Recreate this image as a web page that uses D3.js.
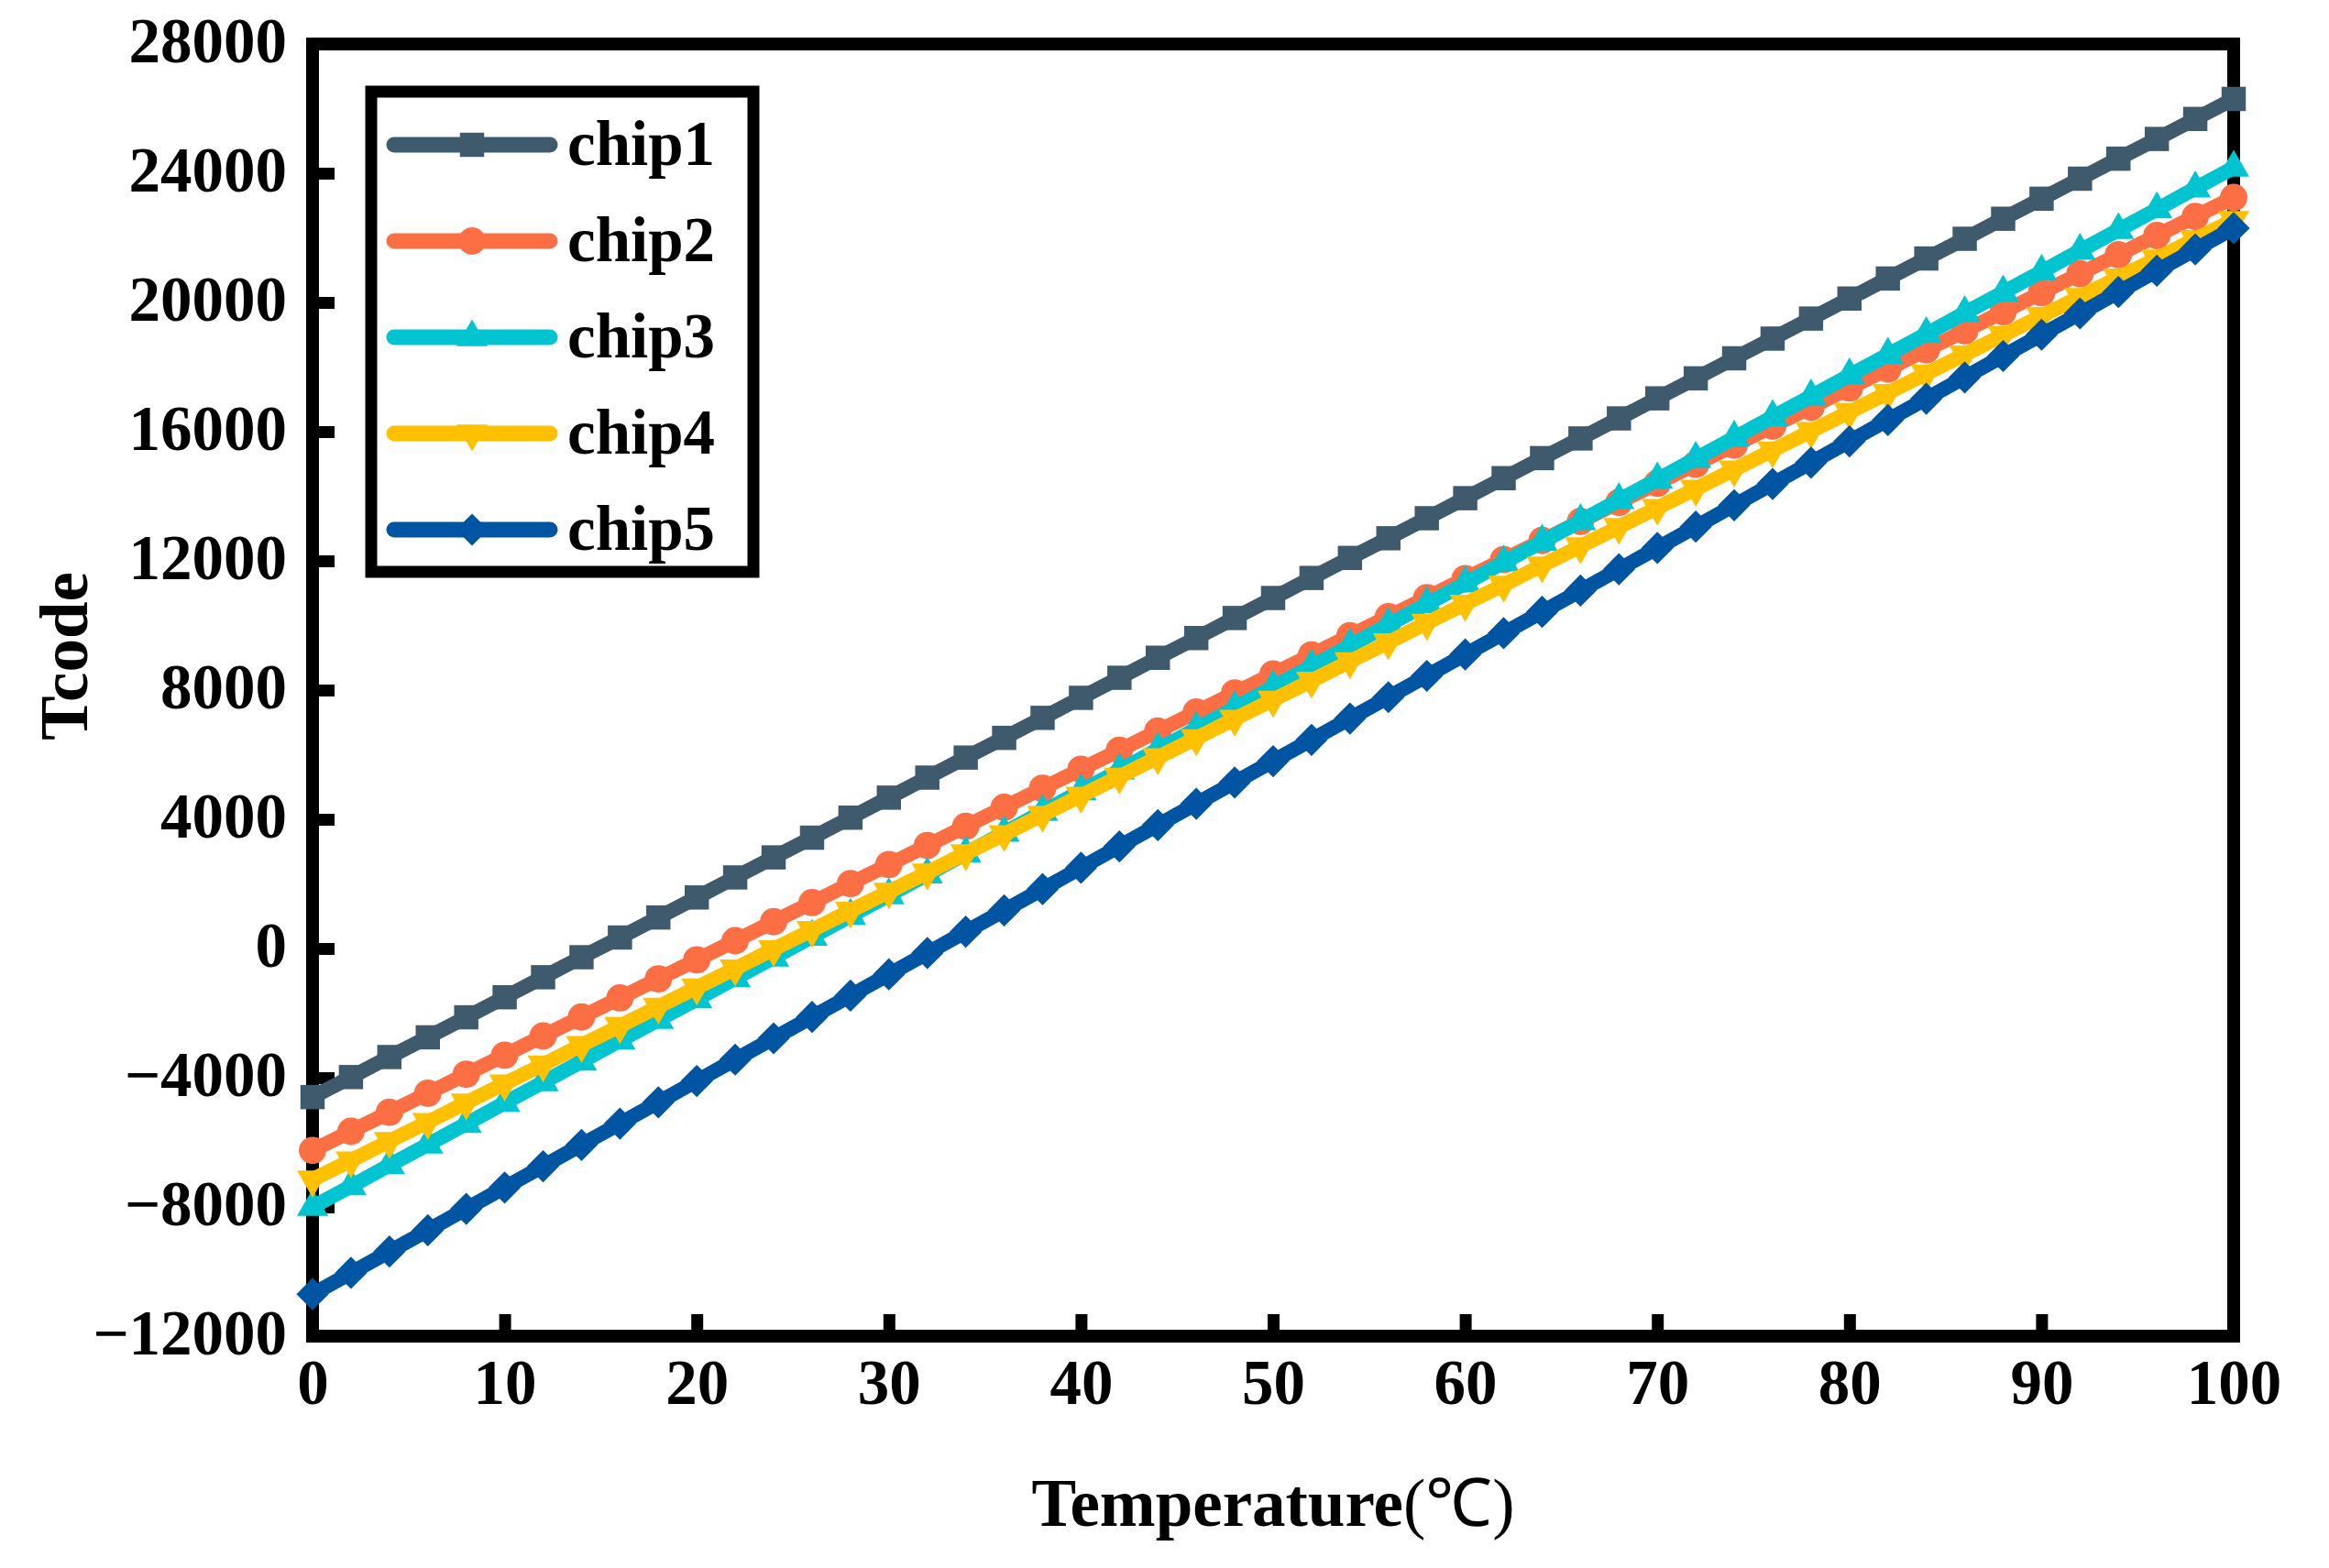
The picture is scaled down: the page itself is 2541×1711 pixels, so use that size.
<!DOCTYPE html>
<html>
<head>
<meta charset="utf-8">
<script src="https://cdn.jsdelivr.net/npm/d3@7"></script>
<style>
  html, body { margin: 0; padding: 0; background: #ffffff; }
  svg { display: block; }
  text { font-family: "Liberation Serif", "Times New Roman", serif; font-weight: bold; fill: #000; }
</style>
</head>
<body>
<script>
// ---------------- data ----------------
const temperature = [0,2,4,6,8,10,12,14,16,18,20,22,24,26,28,30,32,34,36,38,40,42,44,46,48,50,52,54,56,58,60,62,64,66,68,70,72,74,76,78,80,82,84,86,88,90,92,94,96,98,100];

const chip1 = [-4600,-3980,-3360,-2750,-2130,-1510,-890,-270,340,960,1580,2200,2820,3430,4050,4670,5290,5910,6520,7140,7760,8380,9000,9610,10230,10850,11470,12090,12700,13320,13940,14560,15180,15790,16410,17030,17650,18270,18880,19500,20120,20740,21360,21970,22590,23210,23830,24450,25060,25680,26300];
const chip2 = [-6250,-5660,-5070,-4480,-3890,-3300,-2710,-2120,-1530,-940,-350,240,830,1420,2010,2600,3190,3780,4370,4960,5550,6140,6730,7320,7910,8500,9090,9680,10270,10860,11450,12040,12630,13220,13810,14400,14990,15580,16170,16760,17350,17940,18530,19120,19710,20300,20890,21480,22070,22660,23250];
const chip3 = [-8000,-7360,-6710,-6070,-5430,-4780,-4140,-3500,-2850,-2210,-1570,-920,-280,360,1010,1650,2290,2940,3580,4230,4870,5510,6160,6800,7440,8090,8730,9370,10020,10660,11300,11950,12590,13230,13880,14520,15160,15810,16450,17090,17740,18380,19020,19670,20310,20950,21600,22240,22880,23530,24170];
const chip4 = [-7150,-6560,-5960,-5370,-4770,-4180,-3590,-2990,-2400,-1800,-1210,-620,-20,570,1170,1760,2350,2950,3540,4140,4730,5320,5920,6510,7110,7700,8290,8890,9480,10080,10670,11260,11860,12450,13050,13640,14230,14830,15420,16020,16610,17200,17800,18390,18990,19580,20170,20770,21360,21960,22550];
const chip5 = [-10700,-10040,-9380,-8720,-8060,-7400,-6740,-6080,-5420,-4760,-4100,-3440,-2780,-2120,-1460,-800,-140,520,1180,1840,2500,3160,3820,4480,5140,5800,6460,7120,7780,8440,9100,9760,10420,11080,11740,12400,13060,13720,14380,15040,15700,16360,17020,17680,18340,19000,19660,20320,20980,21640,22300];

const seriesNames = ["chip1","chip2","chip3","chip4","chip5"];
const seriesValues = [chip1, chip2, chip3, chip4, chip5];
const seriesColors = ["#3e5a6c","#fc6f45","#00c4cf","#ffc000","#0055a2"];
const seriesMarkers = ["square","circle","triangleUp","triangleDown","diamond"];

const xTicks = [0,10,20,30,40,50,60,70,80,90,100];
const yTicks = [-12000,-8000,-4000,0,4000,8000,12000,16000,20000,24000,28000];
const xTitle = "Temperature";
const xUnit = "(℃)";
const yTitle = "Tcode";

// ---------------- layout ----------------
const W = 2541, H = 1711;
const pLeft = 341, pRight = 2437, pTop = 48, pBottom = 1458;

const svg = d3.select("body").append("svg").attr("width", W).attr("height", H);
svg.append("rect").attr("width", W).attr("height", H).attr("fill", "#fff");

const x = d3.scaleLinear().domain([0, 100]).range([pLeft, pRight]);
const y = d3.scaleLinear().domain([-12000, 28000]).range([pBottom, pTop]);

const fmt = d => d < 0 ? "\u2212" + Math.abs(d) : String(d);

// axes
const yAxis = svg.append("g").attr("transform", `translate(${pLeft},0)`)
  .call(d3.axisLeft(y).tickValues(yTicks).tickFormat(fmt).tickSizeInner(-24).tickSizeOuter(0).tickPadding(28));
yAxis.select(".domain").remove();
yAxis.selectAll(".tick line").attr("stroke", "#000").attr("stroke-width", 13);
yAxis.selectAll(".tick text").attr("font-size", 69).attr("dy", "0.28em")
  .style("font-family", "'Liberation Serif', serif").style("font-weight", "bold");

const xAxis = svg.append("g").attr("transform", `translate(0,${pBottom})`)
  .call(d3.axisBottom(x).tickValues(xTicks).tickFormat(fmt).tickSizeInner(-24).tickSizeOuter(0).tickPadding(0));
xAxis.select(".domain").remove();
xAxis.selectAll(".tick line").attr("stroke", "#000").attr("stroke-width", 13);
xAxis.selectAll(".tick text").attr("font-size", 69).attr("y", 74).attr("dy", 0)
  .style("font-family", "'Liberation Serif', serif").style("font-weight", "bold");

// frame
svg.append("rect")
  .attr("x", pLeft).attr("y", pTop)
  .attr("width", pRight - pLeft).attr("height", pBottom - pTop)
  .attr("fill", "none").attr("stroke", "#000").attr("stroke-width", 14);

// marker shapes
function markerPath(kind) {
  switch (kind) {
    case "square": return d3.symbol(d3.symbolSquare, 700)();
    case "circle": return d3.symbol(d3.symbolCircle, 700)();
    case "triangleUp": return d3.symbol(d3.symbolTriangle, 500)();
    case "triangleDown": return d3.symbol(d3.symbolTriangle, 500)();
    case "diamond": return d3.symbol(d3.symbolSquare, 620)();
  }
}
function markerRot(kind) {
  if (kind === "triangleDown") return 180;
  if (kind === "diamond") return 45;
  return 0;
}

const line = d3.line().x(d => x(d[0])).y(d => y(d[1]));

seriesValues.forEach((vals, i) => {
  const pts = temperature.map((t, j) => [t, vals[j]]);
  const g = svg.append("g").attr("class", "series-" + seriesNames[i]);
  g.append("path").datum(pts)
    .attr("d", line)
    .attr("fill", "none")
    .attr("stroke", seriesColors[i])
    .attr("stroke-width", 16)
    .attr("stroke-linejoin", "round");
  g.selectAll("path.mk").data(pts).enter().append("path")
    .attr("class", "mk")
    .attr("d", markerPath(seriesMarkers[i]))
    .attr("transform", d => `translate(${x(d[0])},${y(d[1])}) rotate(${markerRot(seriesMarkers[i])})`)
    .attr("fill", seriesColors[i]);
});

// legend
const lg = svg.append("g");
lg.append("rect").attr("x", 405).attr("y", 100).attr("width", 417).attr("height", 524)
  .attr("fill", "#fff").attr("stroke", "#000").attr("stroke-width", 13);
seriesNames.forEach((name, i) => {
  const cy = 158 + i * 105;
  lg.append("line").attr("x1", 430).attr("x2", 600).attr("y1", cy).attr("y2", cy)
    .attr("stroke", seriesColors[i]).attr("stroke-width", 17).attr("stroke-linecap", "round");
  lg.append("path").attr("d", markerPath(seriesMarkers[i]))
    .attr("transform", `translate(515,${cy}) rotate(${markerRot(seriesMarkers[i])})`)
    .attr("fill", seriesColors[i]);
  lg.append("text").attr("x", 619).attr("y", cy + 22).attr("font-size", 69).text(name);
});

// axis titles
const xt = svg.append("text").attr("x", (pLeft + pRight) / 2).attr("y", 1665)
  .attr("text-anchor", "middle").attr("font-size", 73);
xt.append("tspan").text(xTitle);
xt.append("tspan").style("font-weight", "normal").text(xUnit);

svg.append("text").attr("transform", "translate(95,716) rotate(-90)")
  .attr("text-anchor", "middle").attr("font-size", 73).text(yTitle);
</script>
</body>
</html>
